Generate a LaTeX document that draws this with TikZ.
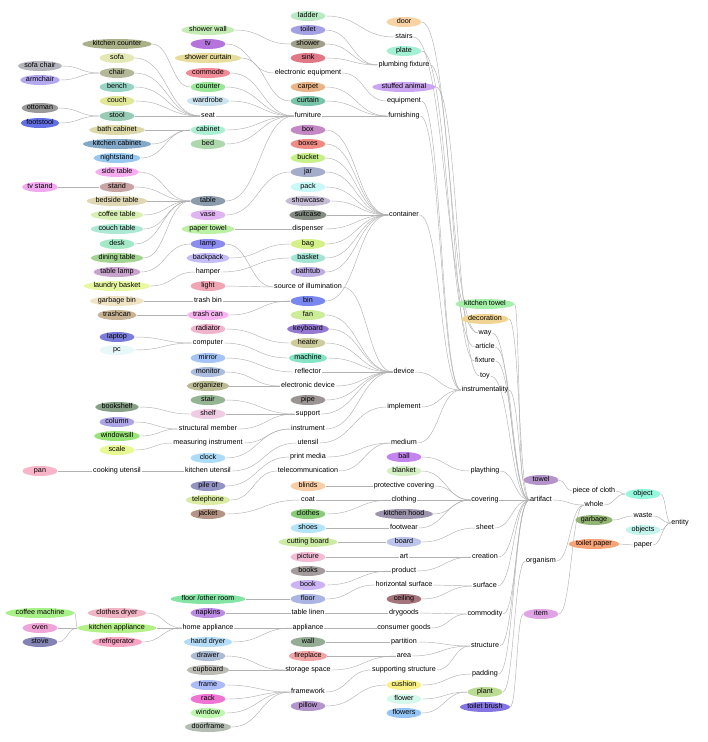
\documentclass[tikz,border=0pt]{standalone}
\usepackage{fontspec}
\setmainfont{Liberation Sans}
\usetikzlibrary{shapes.geometric,calc,backgrounds}

\begin{document}
\begin{tikzpicture}[x=1pt, y=-1pt,
  font=\fontsize{7.2}{8}\selectfont,
  pill/.code={\definecolor{pillfill}{HTML}{#1}%
    \pgfkeysalso{ellipse, fill=pillfill, inner sep=0pt, minimum width=35pt,
      minimum height=10pt, text height=5.2pt, text depth=1.4pt}},
  lbl/.style={inner sep=0.5pt, text height=5.2pt, text depth=1.4pt},
  every edge/.style={draw=black!30, line width=0.45pt,
    to path={let \p1=(\tikztostart.east), \p2=(\tikztotarget.west) in
      (\p1) .. controls ({0.5*\x1+0.5*\x2},\y1) and ({0.5*\x1+0.5*\x2},\y2) .. (\p2)}}]

\useasboundingbox (0,0) rectangle (708,742);

% leaves far left
\node[pill=B4B4BC] (sofachair) at (40,66) {sofa chair};
\node[pill=B4A8F0] (armchair) at (40,80) {armchair};
\node[pill=9A9A9A] (ottoman) at (40,108) {ottoman};
\node[pill=6470E6] (footstool) at (40,123) {footstool};
\node[pill=F2A8F0] (tvstand) at (40,187) {tv stand};
\node[pill=F8B4C8] (pan) at (40,471) {pan};
\node[pill=A8F088] (coffeemachine) at (40,613) {coffee machine};
\node[pill=F0A4D8] (oven) at (40,628) {oven};
\node[pill=8484B4] (stove) at (40,642) {stove};

% second column
\node[pill=AAB088] (kitchencounter) at (117,44) {kitchen counter};
\node[pill=E4E8B4] (sofa) at (117,58) {sofa};
\node[pill=B4B898] (chair) at (117,73) {chair};
\node[pill=98D4C4] (bench) at (117,87) {bench};
\node[pill=E0E898] (couch) at (117,101) {couch};
\node[pill=98CCB4] (stool) at (117,116) {stool};
\node[pill=DCD8A8] (bathcabinet) at (117,130) {bath cabinet};
\node[pill=84A8C8] (kitchencabinet) at (117,144) {kitchen cabinet};
\node[pill=98C8F0] (nightstand) at (117,158) {nightstand};
\node[pill=F8ACF0] (sidetable) at (117,172) {side table};
\node[pill=C8A4A4] (stand) at (117,187) {stand};
\node[pill=E0D8B4] (bedsidetable) at (117,201) {bedside table};
\node[pill=D8F0B4] (coffeetable) at (117,215) {coffee table};
\node[pill=ACE8D4] (couchtable) at (117,229) {couch table};
\node[pill=A4E8C8] (desk) at (117,244) {desk};
\node[pill=A4D494] (diningtable) at (117,258) {dining table};
\node[pill=C8A4CC] (tablelamp) at (117,272) {table lamp};
\node[pill=E8F8A0] (laundrybasket) at (117,286) {laundry basket};
\node[pill=F0E4C4] (garbagebin) at (117,301) {garbage bin};
\node[pill=C8B494] (trashcan) at (117,315) {trashcan};
\node[pill=7C7CDC] (laptop) at (117,337) {laptop};
\node[pill=E8F8F8] (pc) at (117,350) {pc};
\node[pill=88A088] (bookshelf) at (117,407) {bookshelf};
\node[pill=ACA4E4] (column) at (117,422) {column};
\node[pill=98E478] (windowsill) at (117,436) {windowsill};
\node[pill=E8F894] (scale) at (117,450) {scale};
\node[lbl] (cookingutensil) at (117,471) {cooking utensil};
\node[pill=F0B4C4] (clothesdryer) at (117,613) {clothes dryer};
\node[pill=B4F088] (kitchenappliance) at (117,628) {kitchen appliance};
\node[pill=F8A4C4] (refrigerator) at (117,642) {refrigerator};

% third column
\node[pill=C4ECB4] (showerwall) at (208,30) {shower wall};
\node[pill=B474DC] (tv) at (208,44) {tv};
\node[pill=E8DC9C] (showercurtain) at (208,58) {shower curtain};
\node[pill=F08C98] (commode) at (208,73) {commode};
\node[pill=98E898] (counter) at (208,87) {counter};
\node[pill=CCE4F0] (wardrobe) at (208,101) {wardrobe};
\node[lbl] (seat) at (208,116) {seat};
\node[pill=ACF0D4] (cabinet) at (208,130) {cabinet};
\node[pill=ACD8AC] (bed) at (208,144) {bed};
\node[pill=8C9CAC] (table) at (208,201) {table};
\node[pill=E0B4F0] (vase) at (208,215) {vase};
\node[pill=BCF0A4] (papertowel) at (208,229) {paper towel};
\node[pill=8C8CF0] (lamp) at (208,244) {lamp};
\node[pill=C4BCF8] (backpack) at (208,258) {backpack};
\node[lbl] (hamper) at (208,272) {hamper};
\node[pill=F0A4B4] (light) at (208,286) {light};
\node[lbl] (trashbin) at (208,301) {trash bin};
\node[pill=F8B4F0] (trashcanb) at (208,315) {trash can};
\node[pill=F0B4CC] (radiator) at (208,329) {radiator};
\node[lbl] (computer) at (208,343) {computer};
\node[pill=A4C4F8] (mirror) at (208,358) {mirror};
\node[pill=ACBCDC] (monitor) at (208,372) {monitor};
\node[pill=BCBC94] (organizer) at (208,386) {organizer};
\node[pill=94B494] (stair) at (208,400) {stair};
\node[pill=F0CCE4] (shelf) at (208,414) {shelf};
\node[lbl] (structuralmember) at (208,429) {structural member};
\node[lbl] (measuringinstrument) at (208,443) {measuring instrument};
\node[pill=ACDCF8] (clock) at (208,458) {clock};
\node[lbl] (kitchenutensil) at (208,471) {kitchen utensil};
\node[pill=9494C4] (pileof) at (208,486) {pile of};
\node[pill=DCECA4] (telephone) at (208,500) {telephone};
\node[pill=B49484] (jacket) at (208,514) {jacket};
\node[pill=84E4A4] (floorroom) at (208,599) {floor /other room};
\node[pill=BC8CE4] (napkins) at (208,613) {napkins};
\node[lbl] (homeappliance) at (208,628) {home appliance};
\node[pill=B4DCF8] (handdryer) at (208,642) {hand dryer};
\node[pill=ACBCD4] (drawer) at (208,656) {drawer};
\node[pill=BCBCB4] (cupboard) at (208,670) {cupboard};
\node[pill=ACBCF8] (frame) at (208,685) {frame};
\node[pill=F074D4] (rack) at (208,699) {rack};
\node[pill=BCF8AC] (window) at (208,713) {window};
\node[pill=B4BCB4] (doorframe) at (208,727) {doorframe};

% fourth column
\node[pill=B8E8C4] (ladder) at (308,16) {ladder};
\node[pill=A4A0E4] (toilet) at (308,30) {toilet};
\node[pill=A0A088] (shower) at (308,44) {shower};
\node[pill=E07888] (sink) at (308,58) {sink};
\node[lbl] (electronicequipment) at (308,73) {electronic equipment};
\node[pill=E8B488] (carpet) at (308,87) {carpet};
\node[pill=78C4A8] (curtain) at (308,101) {curtain};
\node[lbl] (furniture) at (308,116) {furniture};
\node[pill=C488C4] (box) at (308,130) {box};
\node[pill=F08C84] (boxes) at (308,144) {boxes};
\node[pill=C8F088] (bucket) at (308,158) {bucket};
\node[pill=A4ACCC] (jar) at (308,172) {jar};
\node[pill=C8F8F8] (pack) at (308,187) {pack};
\node[pill=C4BCD4] (showcase) at (308,201) {showcase};
\node[pill=848C84] (suitcase) at (308,215) {suitcase};
\node[lbl] (dispenser) at (308,229) {dispenser};
\node[pill=D4F088] (bag) at (308,244) {bag};
\node[pill=A4E4D4] (basket) at (308,258) {basket};
\node[pill=BCACE4] (bathtub) at (308,272) {bathtub};
\node[lbl] (illumination) at (308,287) {source of illumination};
\node[pill=7888F0] (bin) at (308,301) {bin};
\node[pill=CCEC98] (fan) at (308,315) {fan};
\node[pill=9478D4] (keyboard) at (308,329) {keyboard};
\node[pill=CCCC9C] (heater) at (308,343) {heater};
\node[pill=84E4C4] (machine) at (308,358) {machine};
\node[lbl] (reflector) at (308,372) {reflector};
\node[lbl] (electronicdevice) at (308,386) {electronic device};
\node[pill=9C9494] (pipe) at (308,400) {pipe};
\node[lbl] (support) at (308,414) {support};
\node[lbl] (instrument) at (308,429) {instrument};
\node[lbl] (utensil) at (308,443) {utensil};
\node[lbl] (printmedia) at (308,457) {print media};
\node[lbl] (telecom) at (308,471) {telecommunication};
\node[pill=F8CCA4] (blinds) at (308,486) {blinds};
\node[lbl] (coat) at (308,500) {coat};
\node[pill=88CC78] (clothes) at (308,514) {clothes};
\node[pill=B4E4F8] (shoes) at (308,528) {shoes};
\node[pill=CCECA4] (cuttingboard) at (308,542) {cutting board};
\node[pill=F4BCD4] (picture) at (308,557) {picture};
\node[pill=A49C9C] (books) at (308,571) {books};
\node[pill=CCB4F4] (book) at (308,585) {book};
\node[pill=ACB4E4] (floor) at (308,599) {floor};
\node[lbl] (tablelinen) at (308,613) {table linen};
\node[lbl] (appliance) at (308,628) {appliance};
\node[pill=94AC94] (wall) at (308,642) {wall};
\node[pill=F4A4A4] (fireplace) at (308,656) {fireplace};
\node[lbl] (storagespace) at (308,670) {storage space};
\node[lbl] (framework) at (308,692) {framework};
\node[pill=B494CC] (pillow) at (308,706) {pillow};

% fifth column
\node[pill=F8D4A4] (door) at (404,22) {door};
\node[lbl] (stairs) at (404,37) {stairs};
\node[pill=A4F0D4] (plate) at (404,51) {plate};
\node[lbl] (plumbingfixture) at (404,65) {plumbing fixture};
\node[pill=CCA4F4] (stuffedanimal) at (404,87) {stuffed animal};
\node[lbl] (equipment) at (404,101) {equipment};
\node[lbl] (furnishing) at (404,116) {furnishing};
\node[lbl] (container) at (404,215) {container};
\node[lbl] (device) at (404,372) {device};
\node[lbl] (implement) at (404,407) {implement};
\node[lbl] (medium) at (404,443) {medium};
\node[pill=C484F0] (ball) at (404,457) {ball};
\node[pill=D4F0C4] (blanket) at (404,471) {blanket};
\node[lbl] (protectivecovering) at (404,486) {protective covering};
\node[lbl] (clothing) at (404,500) {clothing};
\node[pill=9C94AC] (kitchenhood) at (404,514) {kitchen hood};
\node[lbl] (footwear) at (404,528) {footwear};
\node[pill=BCC4EC] (board) at (404,542) {board};
\node[lbl] (art) at (404,557) {art};
\node[lbl] (product) at (404,571) {product};
\node[lbl] (horizontalsurface) at (404,585) {horizontal surface};
\node[pill=A4747C] (ceiling) at (404,599) {ceiling};
\node[lbl] (drygoods) at (404,613) {drygoods};
\node[lbl] (consumergoods) at (404,628) {consumer goods};
\node[lbl] (partition) at (404,642) {partition};
\node[lbl] (area) at (404,656) {area};
\node[lbl] (supportingstructure) at (404,670) {supporting structure};
\node[pill=F8F084] (cushion) at (404,685) {cushion};
\node[pill=D4F8EC] (flower) at (404,699) {flower};
\node[pill=94C4F4] (flowers) at (404,713) {flowers};

% sixth column
\node[pill=A4F0A8] (kitchentowel) at (485,304) {kitchen towel};
\node[pill=F0D494] (decoration) at (485,319) {decoration};
\node[lbl] (way) at (485,333) {way};
\node[lbl] (article) at (485,347) {article};
\node[lbl] (fixture) at (485,361) {fixture};
\node[lbl] (toy) at (485,376) {toy};
\node[lbl] (instrumentality) at (485,390) {instrumentality};
\node[lbl] (plaything) at (485,471) {plaything};
\node[lbl] (covering) at (485,500) {covering};
\node[lbl] (sheet) at (485,528) {sheet};
\node[lbl] (creation) at (485,557) {creation};
\node[lbl] (surface) at (485,586) {surface};
\node[lbl] (commodity) at (485,614) {commodity};
\node[lbl] (structure) at (485,646) {structure};
\node[lbl] (padding) at (485,674) {padding};
\node[pill=BCDC94] (plant) at (485,692) {plant};
\node[pill=8474E4] (toiletbrush) at (485,707) {toilet brush};

% right part
\node[pill=B494C8] (towel) at (541,480) {towel};
\node[lbl] (artifact) at (541,500) {artifact};
\node[lbl] (organism) at (541,561) {organism};
\node[pill=E0A4E4] (item) at (541,614) {item};
\node[lbl] (pieceofcloth) at (594,491) {piece of cloth};
\node[lbl] (whole) at (594,505) {whole};
\node[pill=94B474] (garbage) at (594,520) {garbage};
\node[pill=F8A478] (toiletpaper) at (594,544) {toilet paper};
\node[pill=94F8DC] (object) at (643,494) {object};
\node[lbl] (waste) at (643,516) {waste};
\node[pill=C4F4EC] (objects) at (643,530) {objects};
\node[lbl] (paper) at (643,545) {paper};
\node[lbl] (entity) at (680,523) {entity};

\begin{scope}[on background layer]
\path
  (sofachair) edge (chair) (armchair) edge (chair)
  (ottoman) edge (stool) (footstool) edge (stool)
  (tvstand) edge (stand) (pan) edge (cookingutensil)
  (coffeemachine) edge (kitchenappliance) (oven) edge (kitchenappliance)
  (stove) edge (kitchenappliance);
\path
  (kitchencounter) edge (counter)
  (sofa) edge (seat) (chair) edge (seat) (bench) edge (seat)
  (couch) edge (seat) (stool) edge (seat)
  (bathcabinet) edge (cabinet) (kitchencabinet) edge (cabinet) (nightstand) edge (cabinet)
  (sidetable) edge (table) (stand) edge (table) (bedsidetable) edge (table)
  (coffeetable) edge (table) (couchtable) edge (table) (desk) edge (table)
  (diningtable) edge (table) (tablelamp) edge (lamp)
  (laundrybasket) edge (hamper) (garbagebin) edge (trashbin) (trashcan) edge (trashcanb)
  (laptop) edge (computer) (pc) edge (computer)
  (bookshelf) edge (shelf) (column) edge (structuralmember) (windowsill) edge (structuralmember)
  (scale) edge (measuringinstrument) (cookingutensil) edge (kitchenutensil)
  (clothesdryer) edge (homeappliance) (kitchenappliance) edge (homeappliance)
  (refrigerator) edge (homeappliance);
\path
  (showerwall) edge (shower) (tv) edge (electronicequipment)
  (showercurtain) edge (curtain) (commode) edge (furniture) (counter) edge (furniture)
  (wardrobe) edge (furniture) (seat) edge (furniture) (cabinet) edge (furniture)
  (bed) edge (furniture) (table) edge (furniture)
  (vase) edge (jar) (papertowel) edge (dispenser) (lamp) edge (illumination)
  (backpack) edge (bag) (hamper) edge (basket) (light) edge (illumination)
  (trashbin) edge (bin) (trashcanb) edge (bin) (radiator) edge (heater)
  (computer) edge (machine) (mirror) edge (reflector)
  (monitor) edge (electronicdevice) (organizer) edge (electronicdevice)
  (stair) edge (support) (shelf) edge (support) (structuralmember) edge (support)
  (measuringinstrument) edge (instrument) (clock) edge (instrument)
  (kitchenutensil) edge (utensil) (pileof) edge (printmedia)
  (telephone) edge (telecom) (jacket) edge (coat)
  (floorroom) edge (floor) (napkins) edge (tablelinen)
  (homeappliance) edge (appliance) (handdryer) edge (appliance)
  (drawer) edge (storagespace) (cupboard) edge (storagespace)
  (frame) edge (framework) (rack) edge (framework)
  (window) edge (framework) (doorframe) edge (framework);
\path
  (ladder) edge (stairs) (toilet) edge (plumbingfixture) (shower) edge (plumbingfixture)
  (sink) edge (plumbingfixture) (electronicequipment) edge (equipment)
  (carpet) edge (furnishing) (curtain) edge (furnishing) (furniture) edge (furnishing)
  (box) edge (container) (boxes) edge (container) (bucket) edge (container)
  (jar) edge (container) (pack) edge (container) (showcase) edge (container)
  (suitcase) edge (container) (dispenser) edge (container) (bag) edge (container)
  (basket) edge (container) (bathtub) edge (container) (bin) edge (container)
  (illumination) edge (device) (fan) edge (device) (keyboard) edge (device)
  (heater) edge (device) (machine) edge (device) (reflector) edge (device)
  (electronicdevice) edge (device) (pipe) edge (device) (support) edge (device)
  (instrument) edge (device) (utensil) edge (implement)
  (printmedia) edge (medium) (telecom) edge (medium)
  (blinds) edge (protectivecovering) (coat) edge (clothing) (clothes) edge (clothing)
  (shoes) edge (footwear) (cuttingboard) edge (board) (picture) edge (art)
  (books) edge (product) (book) edge (product) (floor) edge (horizontalsurface)
  (tablelinen) edge (drygoods) (appliance) edge (consumergoods)
  (wall) edge (partition) (fireplace) edge (area) (storagespace) edge (area)
  (framework) edge (supportingstructure) (pillow) edge (cushion);
\path
  (door) edge (way) (stairs) edge (way) (plate) edge (article)
  (plumbingfixture) edge (fixture) (stuffedanimal) edge (toy)
  (equipment) edge (instrumentality) (furnishing) edge (instrumentality)
  (container) edge (instrumentality) (device) edge (instrumentality)
  (implement) edge (instrumentality) (medium) edge (instrumentality)
  (ball) edge (plaything) (blanket) edge (covering) (protectivecovering) edge (covering)
  (clothing) edge (covering) (kitchenhood) edge (covering) (footwear) edge (covering)
  (board) edge (sheet) (art) edge (creation) (product) edge (creation)
  (horizontalsurface) edge (surface) (ceiling) edge (surface)
  (drygoods) edge (commodity) (consumergoods) edge (commodity)
  (partition) edge (structure) (area) edge (structure) (supportingstructure) edge (structure)
  (cushion) edge (padding) (flower) edge (plant) (flowers) edge (plant);
\path
  (kitchentowel) edge (towel)
  (decoration) edge (artifact) (way) edge (artifact) (article) edge (artifact)
  (fixture) edge (artifact) (toy) edge (artifact) (instrumentality) edge (artifact)
  (plaything) edge (artifact) (covering) edge (artifact) (sheet) edge (artifact)
  (creation) edge (artifact) (surface) edge (artifact) (commodity) edge (artifact)
  (structure) edge (artifact) (padding) edge (artifact)
  (plant) edge (organism) (toiletbrush) edge (item)
  (towel) edge (pieceofcloth) (artifact) edge (whole) (organism) edge (whole) (item) edge (whole)
  (pieceofcloth) edge (object) (whole) edge (object)
  (garbage) edge (waste) (toiletpaper) edge (paper)
  (object) edge (entity) (waste) edge (entity) (objects) edge (entity) (paper) edge (entity);
\end{scope}
\end{tikzpicture}
\end{document}
